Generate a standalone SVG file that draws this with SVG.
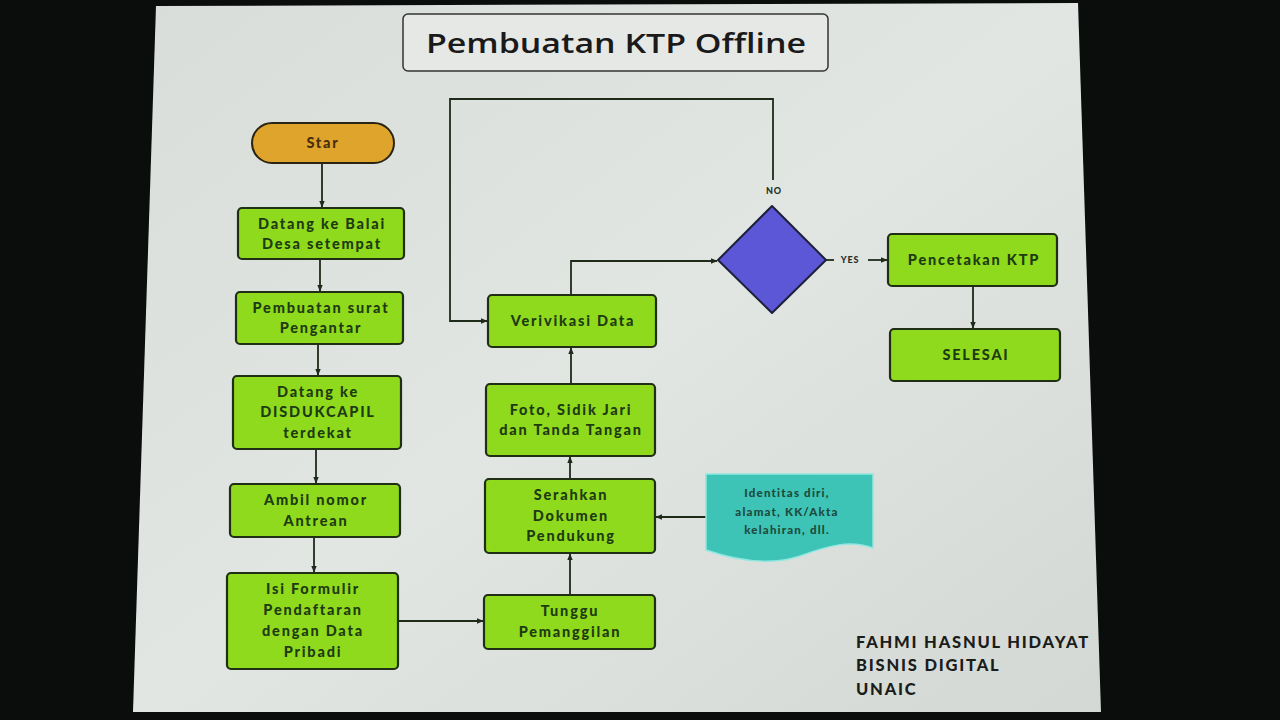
<svg xmlns="http://www.w3.org/2000/svg" width="1280" height="720" viewBox="0 0 1280 720">
<defs>
<marker id="ah" viewBox="0 0 10 10" refX="9" refY="5" markerWidth="7" markerHeight="7" orient="auto-start-reverse" markerUnits="userSpaceOnUse">
<path d="M0,1 L10,5 L0,9 z" fill="#1e2a1a"/>
</marker>
<linearGradient id="bg" x1="0" y1="0" x2="1" y2="1">
<stop offset="0" stop-color="#d8ddd9"/>
<stop offset="0.5" stop-color="#e2e6e3"/>
<stop offset="1" stop-color="#d3d8d5"/>
</linearGradient>
</defs>
<style>
.box{fill:#8fda1c;stroke:#1f2e15;stroke-width:2.2}
.t{font-family:Lato,"DejaVu Sans",sans-serif;font-weight:900;font-size:14.5px;fill:#1e3b12;text-anchor:middle;letter-spacing:1.8px}
.c{fill:none;stroke:#1e2a1a;stroke-width:1.8}
.lbl{font-family:Lato,"DejaVu Sans",sans-serif;font-weight:900;font-size:9px;fill:#2a2f2a;text-anchor:middle;letter-spacing:0.8px}
.foot{font-family:Lato,"DejaVu Sans",sans-serif;font-weight:900;font-size:16.5px;fill:#1a1d1a;letter-spacing:1.8px}
</style>
<rect width="1280" height="720" fill="#0b0c0c"/>
<polygon points="156,6 1078,3 1101,712 133,712" fill="url(#bg)"/>

<g id="title">
<rect x="403" y="14" width="425" height="57" rx="5" fill="#e6e8e6" stroke="#333" stroke-width="1.5"/>
<text x="426" y="53" textLength="380" lengthAdjust="spacingAndGlyphs" font-family="'Open Sans','DejaVu Sans',sans-serif" font-weight="600" font-size="27" fill="#1a1a1a">Pembuatan KTP Offline</text>
</g>

<g id="connectors">
<line class="c" x1="322" y1="163" x2="322" y2="207" marker-end="url(#ah)"/>
<line class="c" x1="320" y1="259" x2="320" y2="291" marker-end="url(#ah)"/>
<line class="c" x1="318" y1="344" x2="318" y2="375" marker-end="url(#ah)"/>
<line class="c" x1="316" y1="449" x2="316" y2="483" marker-end="url(#ah)"/>
<line class="c" x1="314" y1="537" x2="314" y2="572" marker-end="url(#ah)"/>
<line class="c" x1="398" y1="621" x2="483" y2="621" marker-end="url(#ah)"/>
<line class="c" x1="570" y1="595" x2="570" y2="554" marker-end="url(#ah)"/>
<line class="c" x1="570" y1="479" x2="570" y2="457" marker-end="url(#ah)"/>
<line class="c" x1="571" y1="384" x2="571" y2="348" marker-end="url(#ah)"/>
<polyline class="c" points="571,295 571,261 717,261" marker-end="url(#ah)"/>
<polyline class="c" points="773,180 773,99 450,99 450,321 487,321" marker-end="url(#ah)"/>
<line class="c" x1="826" y1="260" x2="834" y2="260"/>
<line class="c" x1="868" y1="260" x2="887" y2="260" marker-end="url(#ah)"/>
<line class="c" x1="973" y1="286" x2="973" y2="328" marker-end="url(#ah)"/>
<line class="c" x1="706" y1="517" x2="656" y2="517" marker-end="url(#ah)"/>
<text class="lbl" x="774" y="194">NO</text>
<text class="lbl" x="850" y="263">YES</text>
</g>

<g id="start">
<rect x="252" y="123" width="142" height="40" rx="20" fill="#dfa42b" stroke="#2a2415" stroke-width="2"/>
<text class="t" x="323" y="148" style="fill:#4a2e10">Star</text>
</g>

<g id="datang-balai">
<rect class="box" x="238" y="208" width="166" height="51" rx="4"/>
<text class="t" x="322" y="229">Datang ke Balai</text>
<text class="t" x="322" y="249">Desa setempat</text>
</g>

<g id="pembuatan-surat">
<rect class="box" x="236" y="292" width="167" height="52" rx="4"/>
<text class="t" x="321" y="313">Pembuatan surat</text>
<text class="t" x="321" y="333">Pengantar</text>
</g>

<g id="disdukcapil">
<rect class="box" x="233" y="376" width="168" height="73" rx="4"/>
<text class="t" x="318" y="397">Datang ke</text>
<text class="t" x="318" y="417">DISDUKCAPIL</text>
<text class="t" x="318" y="438">terdekat</text>
</g>

<g id="ambil-nomor">
<rect class="box" x="230" y="484" width="170" height="53" rx="4"/>
<text class="t" x="316" y="505">Ambil nomor</text>
<text class="t" x="316" y="526">Antrean</text>
</g>

<g id="isi-formulir">
<rect class="box" x="227" y="573" width="171" height="96" rx="4"/>
<text class="t" x="313" y="594">Isi Formulir</text>
<text class="t" x="313" y="615">Pendaftaran</text>
<text class="t" x="313" y="636">dengan Data</text>
<text class="t" x="313" y="657">Pribadi</text>
</g>

<g id="tunggu">
<rect class="box" x="484" y="595" width="171" height="54" rx="4"/>
<text class="t" x="570" y="616">Tunggu</text>
<text class="t" x="570" y="637">Pemanggilan</text>
</g>

<g id="serahkan">
<rect class="box" x="485" y="479" width="170" height="74" rx="4"/>
<text class="t" x="571" y="500">Serahkan</text>
<text class="t" x="571" y="521">Dokumen</text>
<text class="t" x="571" y="541">Pendukung</text>
</g>

<g id="foto">
<rect class="box" x="486" y="384" width="169" height="72" rx="4"/>
<text class="t" x="571" y="415">Foto, Sidik Jari</text>
<text class="t" x="571" y="435">dan Tanda Tangan</text>
</g>

<g id="verifikasi">
<rect class="box" x="488" y="295" width="168" height="52" rx="4"/>
<text class="t" x="573" y="326">Verivikasi Data</text>
</g>

<g id="decision">
<polygon points="772,206 826,260 772,313 718,260" fill="#5b57d6" stroke="#1e1f3a" stroke-width="2" stroke-linejoin="round"/>
</g>

<g id="pencetakan">
<rect class="box" x="888" y="234" width="169" height="52" rx="4"/>
<text class="t" x="974" y="265">Pencetakan KTP</text>
</g>

<g id="selesai">
<rect class="box" x="890" y="329" width="170" height="52" rx="4"/>
<text class="t" x="976" y="360">SELESAI</text>
</g>

<g id="dokumen">
<path d="M706,474 L873,474 L873,548 C850,540 830,545 800,556 C770,566 735,560 706,550 Z" fill="#3ec4b6" stroke="#8fe8e0" stroke-width="1.5"/>
<text class="t" x="787" y="497" style="font-size:11.5px;letter-spacing:1.2px;fill:#1d4a3c">Identitas diri,</text>
<text class="t" x="787" y="516" style="font-size:11.5px;letter-spacing:1.2px;fill:#1d4a3c">alamat, KK/Akta</text>
<text class="t" x="787" y="534" style="font-size:11.5px;letter-spacing:1.2px;fill:#1d4a3c">kelahiran, dll.</text>
</g>

<g id="footer">
<text class="foot" x="856" y="648">FAHMI HASNUL HIDAYAT</text>
<text class="foot" x="856" y="671">BISNIS DIGITAL</text>
<text class="foot" x="856" y="695">UNAIC</text>
</g>
</svg>
